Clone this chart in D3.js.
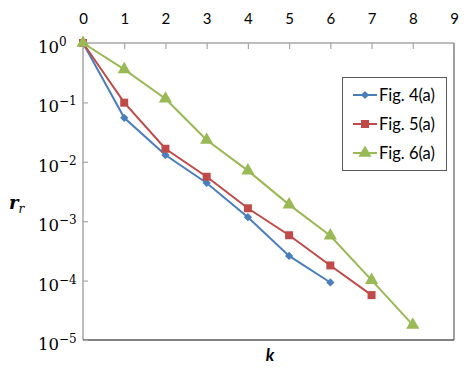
<!DOCTYPE html>
<html>
<head>
<meta charset="utf-8">
<script src="https://cdn.jsdelivr.net/npm/d3@7"></script>
<style>
  body { margin: 0; background: #fff; }
  svg { display: block; }
</style>
</head>
<body>
<div class="canvas"></div>
<script>
// iterations k
const kTicks = [0, 1, 2, 3, 4, 5, 6, 7, 8, 9];
const yExponents = [0, -1, -2, -3, -4, -5];

const seriesNames = ["Fig. 4(a)", "Fig. 5(a)", "Fig. 6(a)"];
const fig4a = [1, 0.055, 0.013, 0.0044, 0.00117, 0.00026, 0.000093];
const fig5a = [1, 0.099, 0.0166, 0.0056, 0.00165, 0.00058, 0.00018, 0.000057];
const fig6a = [1, 0.36, 0.115, 0.0233, 0.0071, 0.0019, 0.00057, 0.000102, 0.000018];

const colors = ["#4a7ebb", "#be4b48", "#98b954"];
const markers = [d3.symbolSquare, d3.symbolSquare, d3.symbolTriangle];
const markerSizes = [34, 64, 75];
const markerRot = [45, 0, 0];

const W = 474, H = 368;
const pLeft = 83, pRight = 454, pTop = 43, pBottom = 340;

const svg = d3.select(".canvas")
    .append("svg")
    .attr("width", W)
    .attr("height", H);

const x = d3.scaleLinear().domain([0, 9]).range([pLeft, pRight]);
const y = d3.scaleLog().domain([1e-5, 1]).range([pBottom, pTop]);

// plot frame
svg.append("line").attr("x1", pLeft).attr("x2", pRight).attr("y1", pTop).attr("y2", pTop)
    .attr("stroke", "#a6a6a6").attr("stroke-width", 1.5);
svg.append("line").attr("x1", pLeft).attr("x2", pLeft).attr("y1", pTop).attr("y2", pBottom)
    .attr("stroke", "#a6a6a6").attr("stroke-width", 1.5);
svg.append("line").attr("x1", pRight).attr("x2", pRight).attr("y1", pTop).attr("y2", pBottom)
    .attr("stroke", "#7f7f7f").attr("stroke-width", 1.5);
svg.append("line").attr("x1", pLeft).attr("x2", pRight).attr("y1", pBottom).attr("y2", pBottom)
    .attr("stroke", "#595959").attr("stroke-width", 1.5);

// top axis
const xAxis = d3.axisTop(x).tickValues(kTicks).tickSizeInner(-6).tickSizeOuter(0).tickPadding(19);
const gx = svg.append("g").attr("transform", `translate(0,${pTop})`).call(xAxis);
gx.select(".domain").remove();
gx.selectAll(".tick line").attr("stroke", "#a6a6a6").attr("stroke-width", 1.2);
gx.selectAll(".tick text")
    .attr("fill", "#000")
    .style("font-family", "Lato, 'Open Sans', sans-serif")
    .style("font-size", "15px");

// left axis ticks
const yAxis = d3.axisLeft(y).tickValues(yExponents.map(e => Math.pow(10, e)))
    .tickSizeInner(-5).tickSizeOuter(0).tickFormat("");
const gy = svg.append("g").attr("transform", `translate(${pLeft},0)`).call(yAxis);
gy.select(".domain").remove();
gy.selectAll(".tick line").attr("stroke", "#a6a6a6").attr("stroke-width", 1.2);

// power-of-ten labels
const yl = svg.append("g")
    .style("font-family", "'DejaVu Serif', 'Liberation Serif', serif");
yExponents.forEach(e => {
    const t = yl.append("text")
        .attr("x", 38)
        .attr("y", y(Math.pow(10, e)) + 10)
        .attr("fill", "#000")
        .style("font-size", "16.5px");
    t.append("tspan").text("10");
    t.append("tspan")
        .attr("dy", -7)
        .style("font-size", "12px")
        .text(e === 0 ? "0" : "\u2212" + (-e));
});

// series
const allSeries = [fig4a, fig5a, fig6a];
const line = d3.line().x((d, i) => x(i)).y(d => y(d));

allSeries.forEach((vals, si) => {
    svg.append("path")
        .datum(vals)
        .attr("fill", "none")
        .attr("stroke", colors[si])
        .attr("stroke-width", 2)
        .attr("d", line);
});
allSeries.forEach((vals, si) => {
    svg.selectAll(".m" + si)
        .data(vals)
        .enter()
        .append("path")
        .attr("class", "m" + si)
        .attr("transform", (d, i) => `translate(${x(i)},${y(d)}) rotate(${markerRot[si]})`)
        .attr("d", d3.symbol().type(markers[si]).size(markerSizes[si]))
        .attr("fill", colors[si]);
});

// legend
const lg = svg.append("g");
lg.append("rect")
    .attr("x", 342.5).attr("y", 77.5)
    .attr("width", 104).attr("height", 93)
    .attr("fill", "#fff")
    .attr("stroke", "#595959")
    .attr("stroke-width", 1);
seriesNames.forEach((name, i) => {
    const ly = 95 + i * 29;
    lg.append("line")
        .attr("x1", 353).attr("x2", 377)
        .attr("y1", ly).attr("y2", ly)
        .attr("stroke", colors[i]).attr("stroke-width", 2);
    lg.append("path")
        .attr("transform", `translate(365,${ly}) rotate(${markerRot[i]})`)
        .attr("d", d3.symbol().type(markers[i]).size(markerSizes[i]))
        .attr("fill", colors[i]);
    lg.append("text")
        .attr("x", 379)
        .attr("y", ly + 6)
        .attr("fill", "#000")
        .style("font-family", "Lato, 'Open Sans', sans-serif")
        .style("font-size", "16.5px")
        .text(name);
});

// axis titles
const yt = svg.append("text")
    .attr("x", 9)
    .attr("y", 209)
    .attr("fill", "#000")
    .style("font-family", "'DejaVu Serif', 'Liberation Serif', serif")
    .style("font-style", "italic")
    .style("font-weight", "bold")
    .style("font-size", "18px");
yt.append("tspan").text("r");
yt.append("tspan").attr("dy", 4).style("font-size", "12px").style("font-weight", "normal").text("r");

svg.append("text")
    .attr("x", 270)
    .attr("y", 361)
    .attr("text-anchor", "middle")
    .attr("fill", "#000")
    .style("font-family", "Lato, 'Open Sans', sans-serif")
    .style("font-style", "italic")
    .style("font-weight", "bold")
    .style("font-size", "17px")
    .text("k");
</script>
</body>
</html>
